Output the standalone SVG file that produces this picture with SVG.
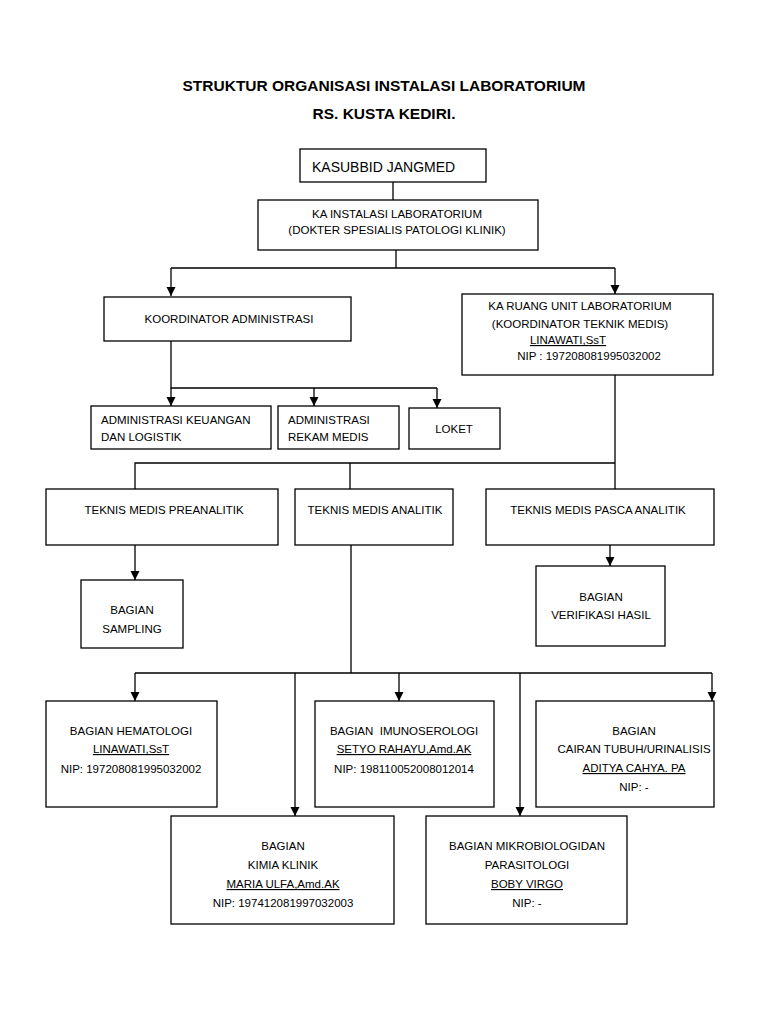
<svg xmlns="http://www.w3.org/2000/svg" width="768" height="1024" viewBox="0 0 768 1024">
<style>
.bg{fill:#fff}
.box{fill:#fff;stroke:#000;stroke-width:1.3}
.ln{fill:none;stroke:#000;stroke-width:1.3}
text{font-family:"Liberation Sans",Arial,sans-serif;fill:#000}
.t{font-size:11.5px;text-anchor:middle}
.s{font-size:11.5px}
.title{font-size:15.5px;font-weight:bold;text-anchor:middle}
.u{text-decoration:underline}
</style>
<defs>
<marker id="ah" markerUnits="userSpaceOnUse" markerWidth="9" markerHeight="10" refX="9" refY="4.5" orient="auto">
<path d="M0,0 L9,4.5 L0,9 z" fill="#000"/>
</marker>
</defs>
<rect class="bg" x="0" y="0" width="768" height="1024"/>
<g id="title">
<text class="title" x="384" y="91">STRUKTUR ORGANISASI INSTALASI LABORATORIUM</text>
<text class="title" x="384" y="119">RS. KUSTA KEDIRI.</text>
</g>
<g id="connectors">
<path class="ln" d="M393,182 V200 M396,250 V268 M171,268 H615"/>
<path class="ln" d="M171,268 V296" marker-end="url(#ah)"/>
<path class="ln" d="M615,268 V294" marker-end="url(#ah)"/>
<path class="ln" d="M171,341 V388 H437"/>
<path class="ln" d="M171,388 V406" marker-end="url(#ah)"/>
<path class="ln" d="M314,388 V406" marker-end="url(#ah)"/>
<path class="ln" d="M437,388 V408" marker-end="url(#ah)"/>
<path class="ln" d="M615,375 V463 H135 V489 M350,463 V489 M615,463 V489"/>
<path class="ln" d="M135,545 V580" marker-end="url(#ah)"/>
<path class="ln" d="M610,545 V566" marker-end="url(#ah)"/>
<path class="ln" d="M351,545 V673 M135,673 H712"/>
<path class="ln" d="M135,673 V701" marker-end="url(#ah)"/>
<path class="ln" d="M295,673 V816" marker-end="url(#ah)"/>
<path class="ln" d="M399,673 V701" marker-end="url(#ah)"/>
<path class="ln" d="M520,673 V816" marker-end="url(#ah)"/>
<path class="ln" d="M712,673 V701" marker-end="url(#ah)"/>
</g>
<g id="kasubbid">
<rect class="box" x="300" y="149" width="186" height="33"/>
<text x="312" y="172" style="font-size:14px">KASUBBID JANGMED</text>
</g>
<g id="ka-instalasi">
<rect class="box" x="258" y="200" width="280" height="50"/>
<text class="t" x="397" y="218">KA INSTALASI LABORATORIUM</text>
<text class="t" x="397" y="234">(DOKTER SPESIALIS PATOLOGI KLINIK)</text>
</g>
<g id="koord-admin">
<rect class="box" x="104" y="297" width="247" height="44"/>
<text class="t" x="229" y="323">KOORDINATOR ADMINISTRASI</text>
</g>
<g id="ka-ruang">
<rect class="box" x="462" y="294" width="251" height="81"/>
<text class="t" x="580" y="310">KA RUANG UNIT LABORATORIUM</text>
<text class="t" x="580" y="328">(KOORDINATOR TEKNIK MEDIS)</text>
<text class="t u" x="568" y="344">LINAWATI,SsT</text>
<text class="t" x="589" y="360">NIP : 197208081995032002</text>
</g>
<g id="adm-keuangan">
<rect class="box" x="91" y="406" width="180" height="43"/>
<text class="s" x="101" y="424">ADMINISTRASI KEUANGAN</text>
<text class="s" x="101" y="441">DAN LOGISTIK</text>
</g>
<g id="adm-rekam">
<rect class="box" x="278" y="406" width="121" height="43"/>
<text class="s" x="288" y="424">ADMINISTRASI</text>
<text class="s" x="288" y="441">REKAM MEDIS</text>
</g>
<g id="loket">
<rect class="box" x="409" y="408" width="91" height="41"/>
<text class="t" x="454" y="433">LOKET</text>
</g>
<g id="preanalitik">
<rect class="box" x="46" y="489" width="232" height="56"/>
<text class="t" x="164" y="514">TEKNIS MEDIS PREANALITIK</text>
</g>
<g id="analitik">
<rect class="box" x="295" y="489" width="158" height="56"/>
<text class="t" x="375" y="514">TEKNIS MEDIS ANALITIK</text>
</g>
<g id="pasca">
<rect class="box" x="486" y="489" width="228" height="56"/>
<text class="t" x="598" y="514">TEKNIS MEDIS PASCA ANALITIK</text>
</g>
<g id="sampling">
<rect class="box" x="81" y="580" width="102" height="68"/>
<text class="t" x="132" y="614">BAGIAN</text>
<text class="t" x="132" y="633">SAMPLING</text>
</g>
<g id="verifikasi">
<rect class="box" x="536" y="566" width="129" height="80"/>
<text class="t" x="601" y="601">BAGIAN</text>
<text class="t" x="601" y="619">VERIFIKASI HASIL</text>
</g>
<g id="hematologi">
<rect class="box" x="46" y="701" width="171" height="106"/>
<text class="t" x="131" y="735">BAGIAN HEMATOLOGI</text>
<text class="t u" x="131" y="753">LINAWATI,SsT</text>
<text class="t" x="131" y="773">NIP: 197208081995032002</text>
</g>
<g id="imunoserologi">
<rect class="box" x="315" y="701" width="179" height="106"/>
<text class="t" x="404" y="735" xml:space="preserve">BAGIAN  IMUNOSEROLOGI</text>
<text class="t u" x="404" y="753">SETYO RAHAYU,Amd.AK</text>
<text class="t" x="404" y="773">NIP: 198110052008012014</text>
</g>
<g id="cairan">
<rect class="box" x="536" y="701" width="178" height="106"/>
<text class="t" x="634" y="735">BAGIAN</text>
<text class="t" x="634" y="753">CAIRAN TUBUH/URINALISIS</text>
<text class="t u" x="634" y="772">ADITYA CAHYA. PA</text>
<text class="t" x="634" y="791">NIP: -</text>
</g>
<g id="kimia">
<rect class="box" x="171" y="816" width="223" height="108"/>
<text class="t" x="283" y="850">BAGIAN</text>
<text class="t" x="283" y="869">KIMIA KLINIK</text>
<text class="t u" x="283" y="888">MARIA ULFA,Amd.AK</text>
<text class="t" x="283" y="907">NIP: 197412081997032003</text>
</g>
<g id="mikrobiologi">
<rect class="box" x="426" y="816" width="201" height="108"/>
<text class="t" x="527" y="850">BAGIAN MIKROBIOLOGIDAN</text>
<text class="t" x="527" y="869">PARASITOLOGI</text>
<text class="t u" x="527" y="888">BOBY VIRGO</text>
<text class="t" x="527" y="907">NIP: -</text>
</g>
</svg>
